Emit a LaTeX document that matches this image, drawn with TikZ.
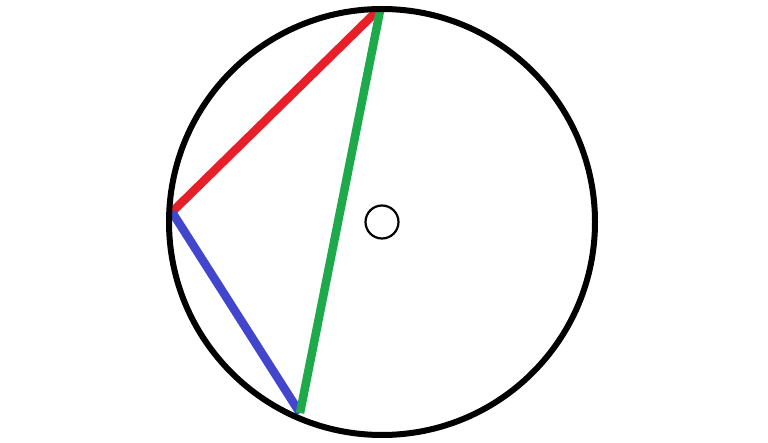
\documentclass[tikz,border=0pt]{standalone}
\definecolor{cred}{RGB}{232,30,40}
\definecolor{cgreen}{RGB}{30,170,75}
\definecolor{cblue}{RGB}{65,70,205}
\begin{document}
\begin{tikzpicture}[x=1pt,y=-1pt,
  chord/.style={line width=8.5pt,line cap=butt},
  rim/.style={draw=black,line width=6pt}]
\useasboundingbox (0,0) rectangle (768,443);
\coordinate (O) at (382,222);
\coordinate (A) at (377,11);
\coordinate (A2) at (380,11);
\coordinate (B) at (172,212);
\coordinate (C) at (300,413);
\draw[chord,cred] (A) -- (B);
\draw[chord,cblue] (B) -- (C);
\draw[chord,cgreen] (A2) -- (C);
\node[rim,circle,minimum size=426pt,inner sep=0pt] (big) at (O) {};
\node[draw=black,line width=2.2pt,circle,minimum size=33pt,inner sep=0pt] (small) at (O) {};
\end{tikzpicture}
\end{document}
